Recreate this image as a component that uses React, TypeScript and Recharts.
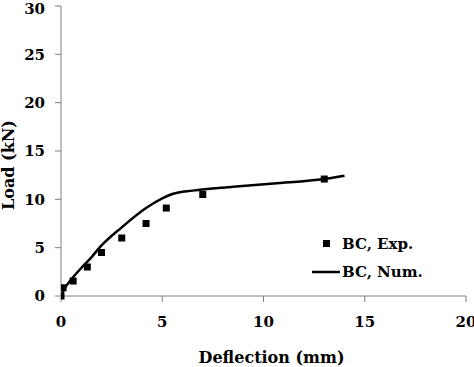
import { ComposedChart, Line, Scatter, XAxis, YAxis, Label } from 'recharts';

// experimental points (deflection mm, load kN)
const expDeflection = [0, 0.1, 0.6, 1.3, 2.0, 3.0, 4.2, 5.2, 7.0, 13.0];
const expLoad = [0, 0.85, 1.55, 3.0, 4.5, 6.0, 7.5, 9.1, 10.5, 12.1];

// numerical curve
const numDeflection = [0, 0.2, 0.5, 1.0, 1.5, 1.9, 3.0, 4.2, 5.0, 5.5, 6.5, 8.5, 10.5, 13.0, 14.0];
const numLoad = [0, 0.85, 1.7, 2.9, 4.0, 5.0, 7.1, 9.1, 10.1, 10.55, 10.9, 11.3, 11.65, 12.1, 12.45];

const xTicks = [0, 5, 10, 15, 20];
const yTicks = [0, 5, 10, 15, 20, 25, 30];

const expData = expDeflection.map((x, i) => ({ x, y: expLoad[i] }));
const numData = numDeflection.map((x, i) => ({ x, y: numLoad[i] }));

const FONT = '"DejaVu Serif", serif';
const AXIS = '#7f7f7f';

const SquareDot = (props: any) => {
  const { cx, cy } = props;
  return <rect x={cx - 3.5} y={cy - 3.5} width={7} height={7} fill="#000" />;
};

// legend drawn over the plot, like the original
const LegendBox = () => (
  <div
    style={{
      position: 'absolute',
      left: 308,
      top: 230,
      fontFamily: FONT,
      fontWeight: 'bold',
      fontSize: 15,
      color: '#000',
    }}
  >
    <div style={{ display: 'flex', alignItems: 'center', height: 28 }}>
      <svg width={34} height={10}>
        <rect x={15} y={1} width={7} height={7} fill="#000" />
      </svg>
      <span>BC, Exp.</span>
    </div>
    <div style={{ display: 'flex', alignItems: 'center', height: 28 }}>
      <svg width={34} height={10}>
        <line x1={4} y1={5} x2={32} y2={5} stroke="#000" strokeWidth={2.5} />
      </svg>
      <span>BC, Num.</span>
    </div>
  </div>
);

export default function App() {
  return (
    <div style={{ position: 'absolute', left: 0, top: 0, width: 474, height: 367, background: '#fff' }}>
      <ComposedChart width={474} height={367} margin={{ top: 6, right: 8, bottom: 0, left: 6 }}>
        <XAxis
          type="number"
          dataKey="x"
          domain={[0, 20]}
          ticks={xTicks}
          allowDataOverflow
          height={71}
          stroke={AXIS}
          tickSize={6}
          tickMargin={14}
          tick={{ fill: '#000', fontFamily: FONT, fontWeight: 'bold', fontSize: 15 }}
        >
          <Label
            value="Deflection (mm)"
            position="insideBottom"
            offset={4}
            dx={8}
            style={{ fill: '#000', fontFamily: FONT, fontWeight: 'bold', fontSize: 16 }}
          />
        </XAxis>
        <YAxis
          type="number"
          dataKey="y"
          domain={[0, 30]}
          ticks={yTicks}
          width={55}
          stroke={AXIS}
          tickSize={6}
          tickMargin={10}
          tick={{ fill: '#000', fontFamily: FONT, fontWeight: 'bold', fontSize: 15 }}
        >
          <Label
            value="Load (kN)"
            angle={-90}
            position="insideLeft"
            offset={2}
            dy={14}
            style={{ textAnchor: 'middle', fill: '#000', fontFamily: FONT, fontWeight: 'bold', fontSize: 16 }}
          />
        </YAxis>
        <Line
          data={numData}
          dataKey="y"
          type="monotone"
          stroke="#000"
          strokeWidth={2.5}
          dot={false}
          isAnimationActive={false}
          name="BC, Num."
        />
        <Scatter
          data={expData}
          dataKey="y"
          fill="#000"
          shape={<SquareDot />}
          isAnimationActive={false}
          name="BC, Exp."
        />
      </ComposedChart>
      <LegendBox />
    </div>
  );
}
